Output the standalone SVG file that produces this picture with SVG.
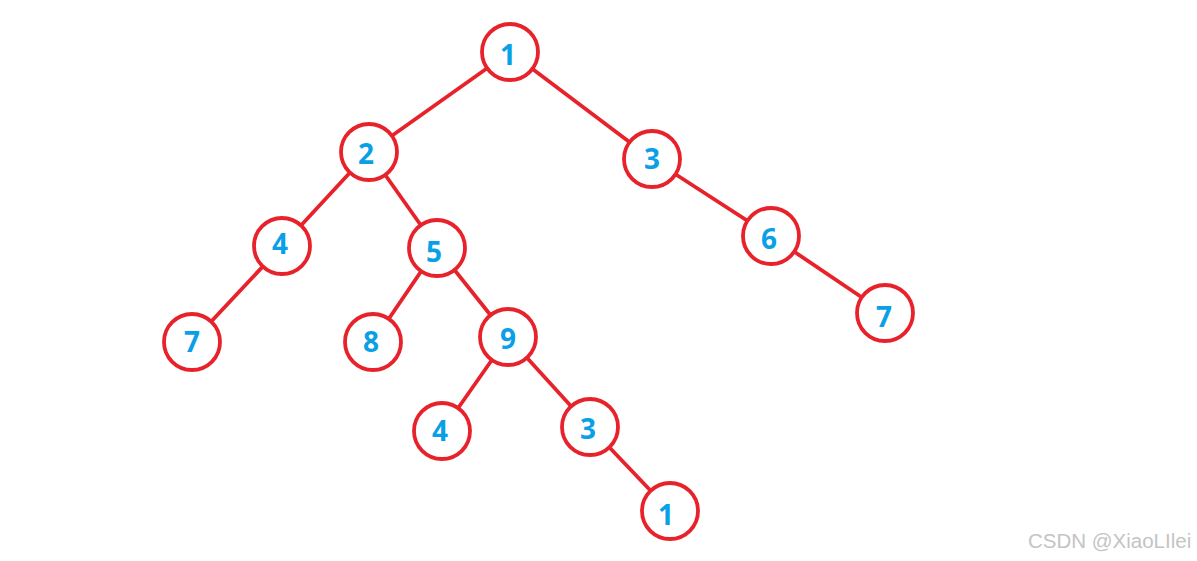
<svg xmlns="http://www.w3.org/2000/svg" width="1197" height="561" viewBox="0 0 1197 561">
<style>
.e{stroke:#e8222b;stroke-width:3.8;fill:none;stroke-linecap:round}
.n circle{fill:#fff;stroke:#e8222b;stroke-width:3.8}
.n text{font-family:"Open Sans","Noto Sans","Liberation Sans",sans-serif;font-weight:bold;font-size:28px;fill:#0aa0e6;text-anchor:middle;dominant-baseline:central}
.w{font-family:"Liberation Sans",Arial,sans-serif;font-size:20.5px;fill:#c4c4c4}
</style>
<rect width="1197" height="561" fill="#fff"/>
<g id="connectors">
<line class="e" x1="510" y1="52" x2="369" y2="152"/>
<line class="e" x1="510" y1="52" x2="652" y2="159"/>
<line class="e" x1="369" y1="152" x2="282" y2="246"/>
<line class="e" x1="369" y1="152" x2="437" y2="248"/>
<line class="e" x1="282" y1="246" x2="192" y2="342"/>
<line class="e" x1="437" y1="248" x2="373" y2="342"/>
<line class="e" x1="437" y1="248" x2="508" y2="337"/>
<line class="e" x1="508" y1="337" x2="442" y2="431"/>
<line class="e" x1="508" y1="337" x2="590" y2="427"/>
<line class="e" x1="590" y1="427" x2="670" y2="511"/>
<line class="e" x1="652" y1="159" x2="771" y2="236"/>
<line class="e" x1="771" y1="236" x2="885" y2="313"/>
</g>
<g id="n1" class="n"><circle cx="510" cy="52" r="28"/><text x="508" y="54">1</text></g>
<g id="n2" class="n"><circle cx="369" cy="152" r="28"/><text x="366" y="153">2</text></g>
<g id="n3" class="n"><circle cx="652" cy="159" r="28"/><text x="652" y="158">3</text></g>
<g id="n4" class="n"><circle cx="282" cy="246" r="28"/><text x="280" y="243">4</text></g>
<g id="n5" class="n"><circle cx="437" cy="248" r="28"/><text x="434" y="251">5</text></g>
<g id="n7a" class="n"><circle cx="192" cy="342" r="28"/><text x="192" y="341">7</text></g>
<g id="n8" class="n"><circle cx="373" cy="342" r="28"/><text x="371" y="341">8</text></g>
<g id="n9" class="n"><circle cx="508" cy="337" r="28"/><text x="508" y="338">9</text></g>
<g id="n4b" class="n"><circle cx="442" cy="431" r="28"/><text x="440" y="430">4</text></g>
<g id="n3b" class="n"><circle cx="590" cy="427" r="28"/><text x="588" y="428">3</text></g>
<g id="n1b" class="n"><circle cx="670" cy="511" r="28"/><text x="666" y="514">1</text></g>
<g id="n6" class="n"><circle cx="771" cy="236" r="28"/><text x="769" y="238">6</text></g>
<g id="n7b" class="n"><circle cx="885" cy="313" r="28"/><text x="884" y="316">7</text></g>
<text class="w" x="1028" y="548">CSDN @XiaoLIlei</text>
</svg>
